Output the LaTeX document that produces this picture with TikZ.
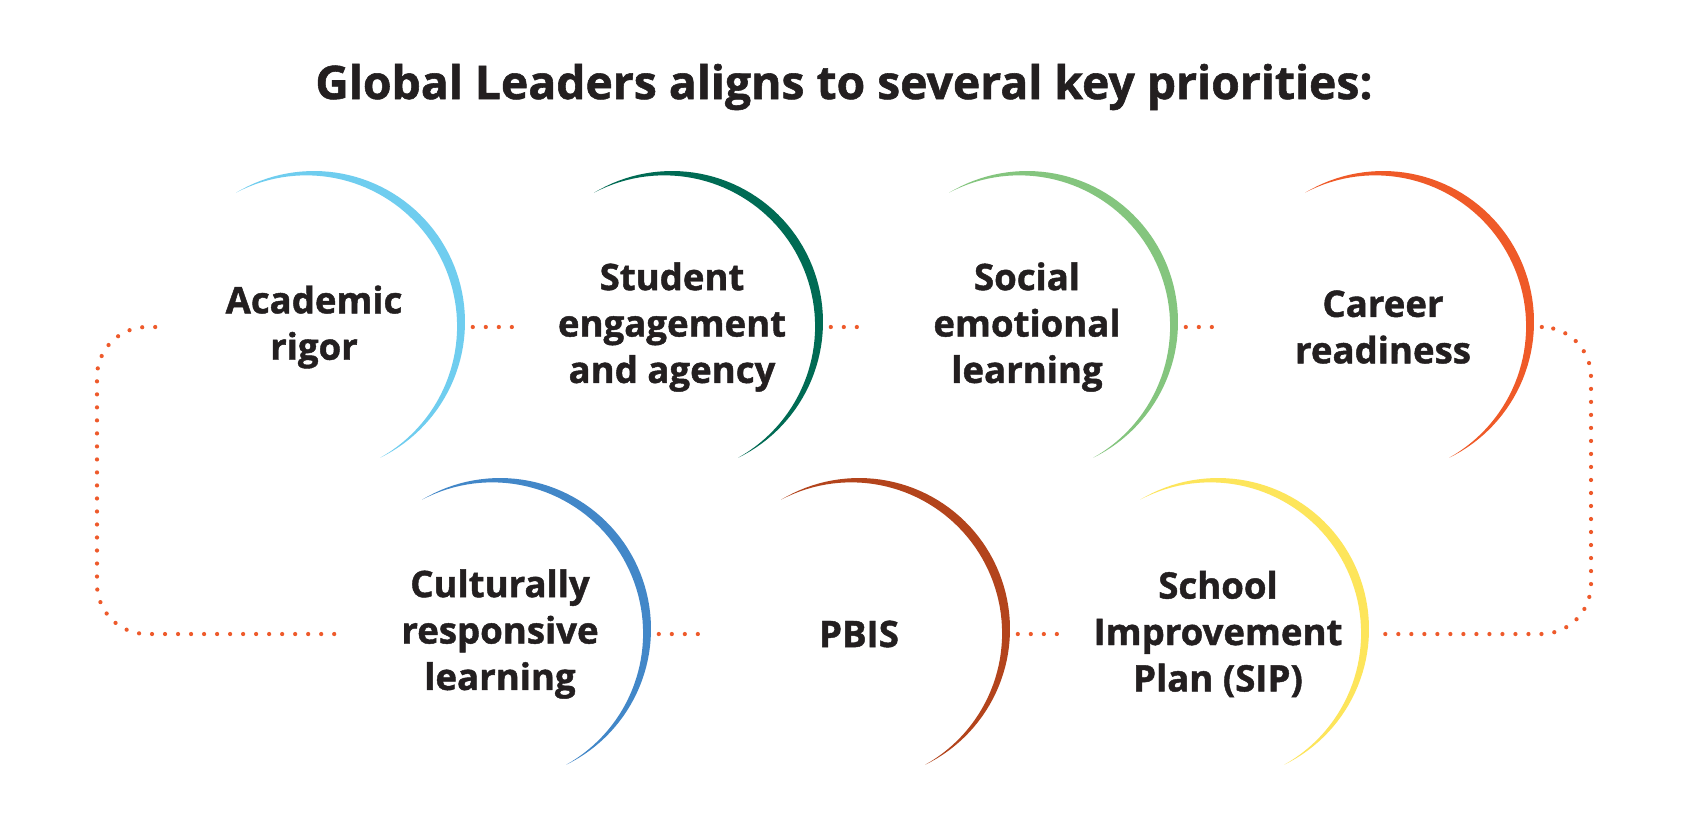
\documentclass[tikz,border=0pt]{standalone}
\usepackage{fontspec}
\setmainfont{Open Sans}[BoldFeatures={FakeBold=1.2}]
\definecolor{ink}{HTML}{231F20}
\definecolor{dotred}{HTML}{EE5A2B}
\definecolor{ringsky}{HTML}{6FCDEF}
\definecolor{ringteal}{HTML}{006B54}
\definecolor{ringlime}{HTML}{84C57E}
\definecolor{ringorange}{HTML}{EF5A28}
\definecolor{ringblue}{HTML}{4287C8}
\definecolor{ringrust}{HTML}{B3441C}
\definecolor{ringyellow}{HTML}{FDE55B}

\begin{document}
\begin{tikzpicture}
    [
        x=0.01cm, y=-0.01cm,
        topic/.style={circle, minimum size=3.16cm, inner sep=0pt, align=center, text=ink, font=\fontsize{10.4}{13.2}\selectfont\bfseries,},
        link/.style={draw=dotred, line width=1.2pt, line cap=round, dash pattern=on 0pt off 3.7pt,},
        ring/.pic={
            \fill plot[domain=-64:121, samples=72] ({151*cos(\x)}, {-5-151*sin(\x)})
                -- plot[domain=121:-64, samples=72] ({(151-9*sin((121-(\x))/185*180))*cos(\x)}, {-5-(151-9*sin((121-(\x))/185*180))*sin(\x)})
                -- cycle;
        },
    ]

    \fill [white] (0,0) rectangle (1689,832);
    \useasboundingbox (0,0) rectangle (1689,832);

    % title
    \node (title) at (844,99) [anchor=base, text=ink, font=\fontsize{13.15}{15}\selectfont\bfseries] {Global Leaders aligns to several key priorities:};

    % priorities
    \node (rigor)   at (314,327)  [topic] {Academic\\rigor};
    \node (student) at (672,327)  [topic] {Student\\engagement\\and agency};
    \node (social)  at (1027,327) [topic] {Social\\emotional\\learning};
    \node (career)  at (1383,327) [topic] {Career\\readiness};
    \node (cult)    at (500,634)  [topic] {Culturally\\responsive\\learning};
    \node (pbis)    at (859,634)  [topic] {PBIS};
    \node (sip)     at (1218,634) [topic] {School\\Improvement\\Plan (SIP)};

    \pic [color=ringsky]    at (rigor)   {ring};
    \pic [color=ringteal]   at (student) {ring};
    \pic [color=ringlime]   at (social)  {ring};
    \pic [color=ringorange] at (career)  {ring};
    \pic [color=ringblue]   at (cult)    {ring};
    \pic [color=ringrust]   at (pbis)    {ring};
    \pic [color=ringyellow] at (sip)     {ring};

    % dotted path
    \coordinate (lx) at (97,0);
    \coordinate (rx) at (1591,0);
    \draw [link] (rigor) -- (student);
    \draw [link] (student) -- (social);
    \draw [link] (social) -- (career);
    \draw [link] (cult) -- (pbis);
    \draw [link] (pbis) -- (sip);
    \draw [link, rounded corners=14.2pt] (rigor.west) -- (rigor.west -| lx) |- (cult.west);
    \draw [link, rounded corners=14.2pt] (career.east) -- (career.east -| rx) |- (sip.east);

\end{tikzpicture}
\end{document}
